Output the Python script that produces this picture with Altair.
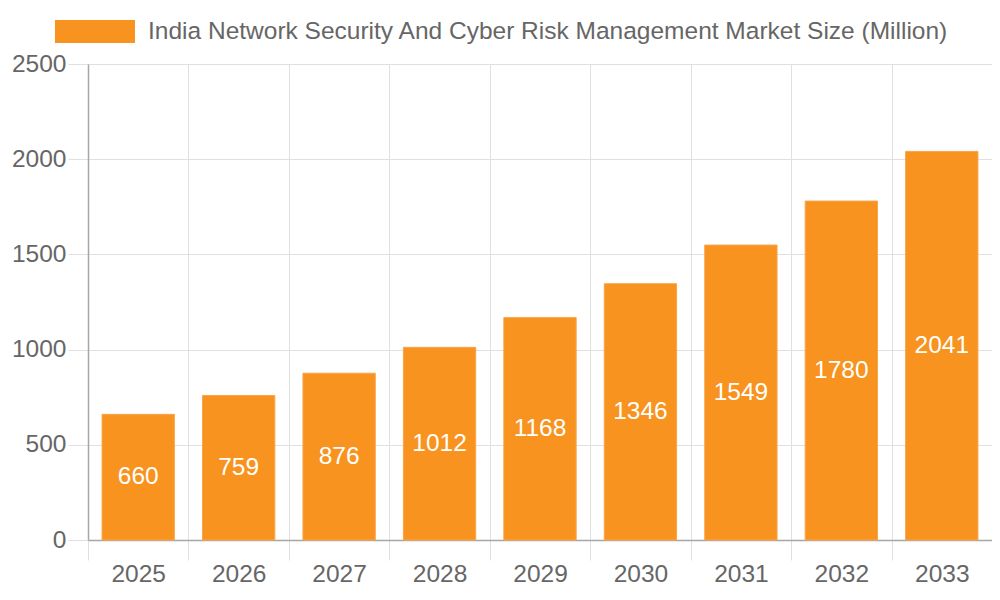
import altair as alt
import pandas as pd

years = ["2025", "2026", "2027", "2028", "2029", "2030", "2031", "2032", "2033"]
values = [660, 759, 876, 1012, 1168, 1346, 1549, 1780, 2041]
series_name = "India Network Security And Cyber Risk Management Market Size (Million)"
y_ticks = [0, 500, 1000, 1500, 2000, 2500]

df = pd.DataFrame({"year": years, "value": values, "series": [series_name] * len(years)})

FONT = "Liberation Sans"
FS = 24.5
ORANGE = "#F7931E"
GRID = "#e0e0e0"
AXIS = "#a6a6a6"
TEXT = "#666666"

x_enc = alt.X(
    "year:N",
    sort=years,
    scale=alt.Scale(paddingInner=0, paddingOuter=0),
    axis=alt.Axis(
        title=None,
        labelAngle=0,
        labelFont=FONT,
        labelFontSize=FS,
        labelColor=TEXT,
        labelPadding=2,
        tickBand="extent",
        tickSize=20,
        tickColor=GRID,
        grid=True,
        gridColor=GRID,
        domainColor=AXIS,
        domainWidth=1.5,
    ),
)

y_enc = alt.Y(
    "value:Q",
    scale=alt.Scale(domain=[0, 2500], nice=False),
    axis=alt.Axis(
        title=None,
        values=y_ticks,
        format="d",
        labelFont=FONT,
        labelFontSize=FS,
        labelColor=TEXT,
        labelPadding=2,
        tickSize=20,
        tickColor=GRID,
        gridColor=GRID,
        domainColor=AXIS,
        domainWidth=1.5,
    ),
)

bars = alt.Chart(df).mark_bar(
    width=alt.RelativeBandSize(0.72),
    stroke="#f9a54a",
    strokeWidth=1,
).encode(
    x=x_enc,
    y=y_enc,
    color=alt.Color(
        "series:N",
        scale=alt.Scale(domain=[series_name], range=[ORANGE]),
        legend=alt.Legend(
            title=None,
            orient="none",
            legendX=-33,
            legendY=-72.5,
            padding=0,
            symbolType="M-1,-0.2875L1,-0.2875L1,0.2875L-1,0.2875Z",
            symbolSize=6400,
            symbolStrokeWidth=0,
            labelFont=FONT,
            labelFontSize=FS,
            labelColor=TEXT,
            labelOffset=13,
            labelLimit=1000,
        ),
    ),
)

labels = alt.Chart(df).transform_calculate(
    mid="datum.value / 2"
).mark_text(
    color="white", font=FONT, fontSize=FS, align="center", baseline="middle"
).encode(
    x=alt.X("year:N", sort=years),
    y=alt.Y("mid:Q"),
    text=alt.Text("value:Q"),
)

chart = alt.layer(bars, labels).properties(
    width=904,
    height=476,
    autosize=alt.AutoSizeParams(type="none"),
    padding={"left": 80, "top": 56, "right": 0, "bottom": 50},
).configure_view(stroke=None)

chart.save("out.html", embed_options={"renderer": "svg", "actions": False})
